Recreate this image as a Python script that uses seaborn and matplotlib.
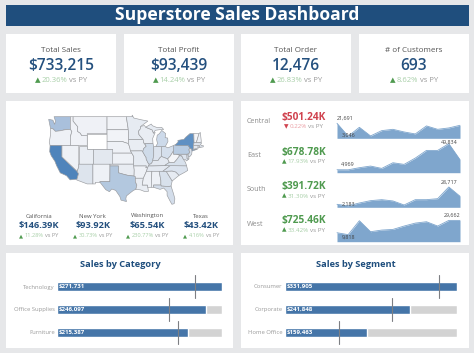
import math
import numpy as np
import pandas as pd
import seaborn as sns
import matplotlib
matplotlib.use("Agg")
import matplotlib.pyplot as plt
from matplotlib.patches import Rectangle

# ------------------ data ------------------
kpi_titles = ["Total Sales", "Total Profit", "Total Order", "# of Customers"]
kpi_values = ["$733,215", "$93,439", "12,476", "693"]
kpi_deltas = ["20.36%", "14.24%", "26.83%", "8.62%"]

top_states = ["California", "New York", "Washington", "Texas"]
top_sales = ["$146.39K", "$93.92K", "$65.54K", "$43.42K"]
top_deltas = ["11.28%", "30.73%", "230.77%", "4.16%"]

regions = ["Central", "East", "South", "West"]
region_sales = ["$501.24K", "$678.78K", "$391.72K", "$725.46K"]
region_deltas = ["0.22%", "17.93%", "31.30%", "33.42%"]
region_up = [False, True, True, True]
months = list(range(12))
central = [21691, 3046, 15900, 3400, 11100, 13000, 9200, 6300, 17900, 13000, 15000, 18800]
east = [5100, 4969, 8600, 11400, 7400, 17100, 14300, 25100, 38300, 38300, 49834, 22300]
south = [4200, 2183, 6100, 9400, 10800, 9000, 3300, 10800, 10800, 12200, 28717, 15600]
west = [12500, 9818, 29200, 13900, 16200, 17100, 21800, 25900, 27800, 21800, 29662, 29662]

categories = ["Technology", "Office Supplies", "Furniture"]
category_sales = [271731, 246097, 215387]
category_targets = [226700, 183900, 199300]
segments = ["Consumer", "Corporate", "Home Office"]
segment_sales = [331905, 241848, 159463]
segment_targets = [297200, 207100, 105500]

# state outlines, lon/lat
WA = [(-124.7,48.4),(-123.2,48.2),(-122.6,47.2),(-122.3,48.0),(-122.8,49),(-117.03,49),(-117.04,46.4),(-116.92,46.0),(-119,45.93),(-120.5,45.7),(-122.3,45.55),(-123.2,46.15),(-124.05,46.27)]
OR = [(-124.05,46.27),(-123.2,46.15),(-122.3,45.55),(-120.5,45.7),(-119,45.93),(-116.92,46.0),(-116.5,45.5),(-117.03,44.2),(-117.03,42),(-124.2,42),(-124.5,42.8),(-124.1,44.5)]
CA = [(-124.2,42),(-120,42),(-120,39),(-114.63,35),(-114.15,34.3),(-114.7,32.72),(-117.12,32.53),(-118.4,33.75),(-120.6,34.55),(-121.9,36.6),(-122.5,37.8),(-123.8,39.3),(-124.35,40.4)]
NV = [(-120,42),(-114.04,42),(-114.05,36.2),(-114.63,35),(-120,39)]
ID = [(-117.03,49),(-116.05,49),(-116.05,48),(-114.4,46.65),(-114.5,45.55),(-113.5,45.1),(-113,44.5),(-111.05,44.48),(-111.05,42),(-117.03,42),(-117.03,44.2),(-116.5,45.5),(-116.92,46.0),(-117.04,46.4)]
MT = [(-116.05,49),(-104.05,49),(-104.05,45),(-111.05,45),(-111.05,44.48),(-113,44.5),(-113.5,45.1),(-114.5,45.55),(-114.4,46.65),(-116.05,48)]
WY = [(-111.05,45),(-104.05,45),(-104.05,41),(-111.05,41)]
UT = [(-114.04,42),(-111.05,42),(-111.05,41),(-109.05,41),(-109.05,37),(-114.05,37)]
AZ = [(-114.05,37),(-109.05,37),(-109.05,31.33),(-111.07,31.33),(-114.8,32.5),(-114.7,32.72),(-114.15,34.3),(-114.63,35),(-114.05,36.2)]
CO = [(-109.05,41),(-102.05,41),(-102.05,37),(-109.05,37)]
NM = [(-109.05,37),(-103,37),(-103.05,32),(-106.6,32),(-106.5,31.78),(-108.2,31.78),(-108.2,31.33),(-109.05,31.33)]
ND = [(-104.05,49),(-97.23,49),(-96.6,46.3),(-96.55,45.94),(-104.05,45.94)]
SD = [(-104.05,45.94),(-96.55,45.94),(-96.45,45.3),(-96.45,43.5),(-96.5,42.5),(-97.9,42.8),(-98.5,43),(-104.05,43)]
NE = [(-104.05,43),(-98.5,43),(-97.9,42.8),(-96.5,42.5),(-96.1,41.7),(-95.3,40),(-102.05,40),(-102.05,41),(-104.05,41)]
KS = [(-102.05,40),(-95.3,40),(-94.6,39.1),(-94.62,37),(-102.05,37)]
OK = [(-103,37),(-94.62,37),(-94.43,35.4),(-94.48,33.64),(-96.5,33.8),(-98,34.1),(-100,34.56),(-100,36.5),(-103,36.5)]
TX = [(-103,36.5),(-100,36.5),(-100,34.56),(-98,34.1),(-96.5,33.8),(-94.48,33.64),(-94.04,33.5),(-94.04,32),(-93.5,31),(-93.85,29.7),(-94.7,29.4),(-95.9,28.6),(-97.2,27.7),(-97.4,26.8),(-97.15,25.95),(-99.1,26.4),(-99.5,27.5),(-101,29.4),(-102.4,29.8),(-103.2,29),(-104.5,29.6),(-106.5,31.78),(-106.6,32),(-103.05,32)]
MN = [(-97.23,49),(-95.15,49),(-95.15,49.38),(-94.6,48.7),(-92,48.3),(-89.6,48),(-92.1,46.75),(-92.3,46.1),(-92.9,45.6),(-92.75,44.75),(-91.25,43.5),(-96.45,43.5),(-96.45,45.3),(-96.55,45.94),(-96.6,46.3)]
IA = [(-96.45,43.5),(-91.25,43.5),(-91.1,42.7),(-90.2,41.8),(-91.1,41.2),(-91.42,40.38),(-91.73,40.6),(-95.77,40.58),(-96.1,41.7),(-96.5,42.5)]
MO = [(-95.77,40.58),(-91.73,40.6),(-91.42,40.38),(-90.7,39.4),(-90.2,38.8),(-90.2,38.4),(-89.5,37.3),(-89.1,36.97),(-89.4,36.5),(-89.7,36),(-90.37,36),(-90.15,36.5),(-94.62,36.5),(-94.62,37),(-94.6,39.1),(-95.3,40)]
AR = [(-94.62,36.5),(-90.15,36.5),(-90.37,36),(-89.7,36),(-90.1,35),(-91.2,33),(-94.04,33),(-94.04,33.5),(-94.48,33.64),(-94.43,35.4)]
LA = [(-94.04,33),(-91.2,33),(-91.6,31),(-89.75,31),(-89.6,30.2),(-89.4,29.1),(-90.9,29.1),(-92.2,29.55),(-93.85,29.7),(-93.5,31),(-94.04,32)]
WI = [(-92.1,46.75),(-90.8,46.95),(-90.4,46.55),(-88.1,45.9),(-87.6,45.1),(-87,45.3),(-87.9,43.8),(-87.8,42.5),(-90.65,42.5),(-91.1,42.7),(-91.25,43.5),(-92.75,44.75),(-92.9,45.6),(-92.3,46.1)]
IL = [(-90.65,42.5),(-87.8,42.5),(-87.53,41.7),(-87.53,39.3),(-87.9,38),(-88.1,37.5),(-88.5,37.1),(-89.1,36.97),(-89.5,37.3),(-90.2,38.4),(-90.2,38.8),(-90.7,39.4),(-91.42,40.38),(-91.1,41.2),(-90.2,41.8)]
IN = [(-87.53,41.7),(-86.8,41.76),(-84.8,41.7),(-84.82,39.1),(-85.4,38.7),(-86,38),(-87.9,38),(-87.53,39.3)]
MI_L = [(-86.8,41.76),(-84.8,41.7),(-83.45,41.73),(-82.5,43),(-82.6,43.9),(-83.5,44),(-83.3,45),(-84.7,45.78),(-85.5,45),(-86.3,44.6),(-86.5,43.5),(-86.2,42.5)]
MI_U = [(-90.4,46.55),(-88.1,45.9),(-87.6,45.1),(-87,45.8),(-85,46),(-84,46),(-84.7,46.5),(-86.5,46.5),(-88,46.9),(-88.4,47.3)]
OH = [(-84.8,41.7),(-83.45,41.73),(-82.5,41.4),(-80.52,42),(-80.52,40.6),(-81.7,39.2),(-82.6,38.45),(-84.82,39.1)]
KY = [(-89.4,36.5),(-88.1,36.5),(-83.7,36.6),(-82,37.5),(-82.6,38.45),(-84.82,39.1),(-85.4,38.7),(-86,38),(-87.9,38),(-88.1,37.5),(-88.5,37.1),(-89.1,36.97)]
TN = [(-90.1,35),(-89.7,36),(-89.4,36.5),(-88.1,36.5),(-83.7,36.6),(-81.7,36.6),(-84.3,35)]
MS = [(-91.2,33),(-90.1,35),(-88.2,35),(-88.4,30.3),(-89.6,30.2),(-89.75,31),(-91.6,31)]
AL = [(-88.2,35),(-85.6,35),(-85,32.3),(-85,31),(-87.6,31),(-87.5,30.3),(-88.4,30.3)]
GA = [(-85.6,35),(-83.1,35),(-81,32.2),(-81.4,30.7),(-82.2,30.55),(-84.9,30.7),(-85,31),(-85,32.3)]
FL = [(-87.6,31),(-85,31),(-84.9,30.7),(-82.2,30.55),(-81.4,30.7),(-80.5,28.3),(-80.05,26.8),(-80.3,25.3),(-81.1,25.1),(-81.8,26.2),(-82.8,27.9),(-82.8,29),(-84,30.1),(-85.3,29.7),(-87.5,30.3)]
SC = [(-83.1,35),(-81.05,35.1),(-79.7,34.8),(-78.55,33.85),(-81,32.2)]
NC = [(-84.3,35),(-81.7,36.6),(-75.9,36.55),(-75.5,35.25),(-76.6,34.7),(-78.55,33.85),(-79.7,34.8),(-81.05,35.1),(-83.1,35)]
VA = [(-83.7,36.6),(-75.9,36.55),(-76.3,37.5),(-77,38.3),(-77.5,39.1),(-78.35,39.4),(-79.3,38.4),(-80.3,37.5),(-82,37.5)]
WV = [(-82.6,38.45),(-82,37.5),(-80.3,37.5),(-79.3,38.4),(-78.35,39.4),(-77.7,39.3),(-79.48,39.72),(-80.52,39.72),(-80.52,40.6),(-81.7,39.2)]
MD = [(-79.48,39.72),(-75.79,39.72),(-75.7,38.45),(-75.05,38.45),(-75.9,37.9),(-76.4,38.3),(-77,38.3),(-77.5,39.1),(-77.7,39.3)]
DE = [(-75.79,39.72),(-75.4,39.8),(-75.05,38.45),(-75.7,38.45)]
PA = [(-80.52,42),(-79.76,42.27),(-79.76,42),(-75.35,42),(-74.7,41.35),(-75.1,40.9),(-74.75,40.2),(-75.4,39.8),(-75.79,39.72),(-80.52,39.72)]
NJ = [(-74.7,41.35),(-74,41),(-74,40.4),(-74.1,39.7),(-74.9,38.95),(-75.5,39.5),(-74.75,40.2),(-75.1,40.9)]
NY = [(-79.76,42.27),(-78.9,42.9),(-79,43.3),(-76.8,43.6),(-76.2,44.1),(-74.7,45),(-73.35,45),(-73.3,43.6),(-73.25,42.75),(-73.5,42.05),(-73.5,41.3),(-73.65,41),(-72,41.05),(-74,40.55),(-74,41),(-74.7,41.35),(-75.35,42),(-79.76,42)]
VT = [(-73.35,45),(-71.5,45),(-72.45,42.73),(-73.25,42.75),(-73.3,43.6)]
NH = [(-71.5,45),(-71.05,45.3),(-70.7,43.1),(-70.8,42.87),(-71.3,42.7),(-72.45,42.73)]
MA = [(-73.5,42.05),(-73.25,42.75),(-71.3,42.7),(-70.8,42.87),(-70.6,42.6),(-71,42.3),(-70.6,41.95),(-70,42),(-70,41.65),(-71.1,41.5),(-71.4,42),(-71.8,42)]
CT = [(-73.5,42.05),(-71.8,42),(-71.85,41.33),(-73.65,41),(-73.5,41.3)]
RI = [(-71.8,42),(-71.4,42),(-71.2,41.5),(-71.85,41.33)]

state_shapes = [(WA,"#a9c0dc"),(OR,"#eef1f6"),(CA,"#4f84bb"),(NV,"#eef1f6"),(ID,"#f0f2f7"),(MT,"#eff1f6"),
    (WY,"#ffffff"),(UT,"#e9edf3"),(AZ,"#dde4ed"),(CO,"#e3e8ef"),(NM,"#eef1f6"),(ND,"#f1f3f7"),(SD,"#f1f3f7"),
    (NE,"#eef1f6"),(KS,"#eef1f6"),(OK,"#e8ecf2"),(TX,"#b3c8df"),(MN,"#e6ebf2"),(IA,"#e9edf3"),(MO,"#e6ebf2"),
    (AR,"#eef1f6"),(LA,"#e9edf3"),(WI,"#e9edf3"),(IL,"#cfdbe9"),(IN,"#dde4ee"),(MI_L,"#cddaea"),(MI_U,"#e6ebf2"),
    (OH,"#d5dfec"),(KY,"#e3e8f0"),(TN,"#e3e8f0"),(MS,"#eef1f6"),(AL,"#eef1f6"),(GA,"#d8e1ec"),(FL,"#d3ddea"),
    (SC,"#e6ebf2"),(NC,"#dbe3ee"),(VA,"#d8e1ec"),(WV,"#f4f5f8"),(MD,"#dde4ee"),(DE,"#e3e8f0"),(PA,"#b9cce2"),
    (NJ,"#d8e1ec"),(NY,"#5f90c3"),(VT,"#f4f5f8"),(NH,"#eef1f6"),(MA,"#dde4ee"),(CT,"#e3e8f0"),(RI,"#e9edf3")]

# ------------------ styling ------------------
W, H = 474, 353
sns.set_theme(style="white")
plt.rcParams["font.family"] = ["Open Sans", "DejaVu Sans"]
BG = "#e6e7e9"
NAVY = "#1f4e7d"
VALUE = "#24507e"
BLUE = "#4575a8"
GREEN = "#4f9a4f"
PALEGREEN = "#a8cfa8"
RED = "#d0434f"
PALERED = "#eba0a6"
GREY = "#9a9a9a"
AREA = "#7fa6cd"

fig = plt.figure(figsize=(W / 100, H / 100), dpi=100, facecolor=BG)


def fx(x):
    return x / W


def fy(y):
    return 1 - y / H


def axes_px(x0, y0, x1, y1):
    """Axes covering a rectangle given in image pixels (y downward)."""
    ax = fig.add_axes([fx(x0), fy(y1), (x1 - x0) / W, (y1 - y0) / H])
    ax.patch.set_alpha(0)
    return ax


def panel(x0, y0, x1, y1, color="white"):
    fig.add_artist(Rectangle((fx(x0), fy(y1)), (x1 - x0) / W, (y1 - y0) / H,
                             transform=fig.transFigure, fc=color, ec="none", zorder=0))


def txt(x, y, s, size, color, weight="normal", ha="center"):
    return fig.text(fx(x), fy(y), s, fontsize=size, color=color, fontweight=weight,
                    ha=ha, va="center", zorder=5)


def delta(cx, y, pct, up=True, size=5.5):
    """Triangle + coloured percent + grey 'vs PY', centred on cx."""
    rend = fig.canvas.get_renderer()
    main, pale = (GREEN, PALEGREEN) if up else (RED, PALERED)
    t1 = txt(0, y, "▲" if up else "▼", size - 0.3, main, ha="left")
    t2 = txt(0, y, pct, size, pale, ha="left")
    t3 = txt(0, y, "vs PY", size, GREY, ha="left")
    ws = [t.get_window_extent(rend).width for t in (t1, t2, t3)]
    gap = 1.3
    x = cx - (sum(ws) + 2 * gap) / 2
    for t, w in zip((t1, t2, t3), ws):
        t.set_x(fx(x))
        x += w + gap


# ------------------ panels ------------------
panel(6, 5, 469, 26, NAVY)
txt(237.5, 15.5, "Superstore Sales Dashboard", 12.6, "white", "bold")

kpi_boxes = [(6, 116), (124, 234), (241, 351), (359, 469)]
for (x0, x1), title, value, d in zip(kpi_boxes, kpi_titles, kpi_values, kpi_deltas):
    panel(x0, 34, x1, 93)
    cx = (x0 + x1) / 2
    txt(cx, 51, title, 5.8, "#555555")
    txt(cx, 66, value, 11.2, VALUE, 600)
    delta(cx, 80.5, d)

panel(6, 101, 233, 245)
panel(241, 101, 469, 245)
panel(6, 253, 233, 348)
panel(241, 253, 469, 348)


# ------------------ map ------------------
def merc(lat):
    return math.degrees(math.log(math.tan(math.radians(45 + lat / 2))))


ax_map = axes_px(33.7, 116.7, 217.4, 204.3)
for shape, color in state_shapes:
    lon = [p[0] for p in shape]
    lat = [merc(p[1]) for p in shape]
    ax_map.fill(lon, lat, facecolor=color, edgecolor="#9a9ca0", linewidth=0.45, clip_on=False)
ax_map.set_xlim(-130, -65)
ax_map.set_ylim(merc(25.1), merc(49))
ax_map.axis("off")

for cx, name, sale, d in zip([38.7, 92.7, 147, 201], top_states, top_sales, top_deltas):
    txt(cx, 216, name, 4.3, "#555555")
    txt(cx, 226, sale, 6.7, VALUE, "bold")
    delta(cx, 235.5, d, size=4.1)

# ------------------ region sparklines ------------------
spark_rows = [
    (central, 138.3, 15.0, [(0, 8, 5.3), (1, 0, 1)]),
    (east, 172.7, 29.0, [(1, 0, 5.7), (10, 0, 1)]),
    (south, 207.3, 20.3, [(1, 0, 2), (10, 0, 5)]),
    (west, 241.7, 21.3, [(1, 0, -3), (10, 3, 5)]),
]
row_label_y = [121.7, 155.7, 190, 224.7]
row_value_y = [117.3, 152, 186, 220.7]
row_delta_y = [127, 161.7, 196, 230]

for i, (vals, bottom, height, labels) in enumerate(spark_rows):
    txt(247, row_label_y[i], regions[i], 5.1, "#8a8a8a", ha="left")
    txt(303.7, row_value_y[i], region_sales[i], 7.3, GREEN if region_up[i] else RED, "bold")
    delta(303.7, row_delta_y[i], region_deltas[i], region_up[i], size=4.5)

    ax = axes_px(337, bottom - height, 460, bottom)
    frame = pd.DataFrame({"month": months, "sales": vals})
    ax.fill_between(frame["month"], frame["sales"], color=AREA, lw=0, clip_on=False)
    sns.lineplot(data=frame, x="month", y="sales", ax=ax, color=AREA, lw=0.6, clip_on=False)
    ax.set_xlim(0, 11)
    ax.set_ylim(0, max(vals))
    ax.axis("off")
    for idx, dx, dy in labels:
        ax.annotate(f"{vals[idx]:,}", (idx, vals[idx]), xytext=(dx * 0.72, dy * 0.72),
                    textcoords="offset points", fontsize=3.9, color="#444444",
                    ha="center", va="center", annotation_clip=False, zorder=6)


# ------------------ bullet bars ------------------
def bullet(x0, x1, names, sales, targets, title, title_x):
    ax = axes_px(x0, 275, x1, 344)
    frame = pd.DataFrame({"name": names, "sales": sales, "top": [max(sales)] * len(sales)})
    sns.barplot(data=frame, y="name", x="top", color="#d3d3d3", width=0.39, saturation=1,
                ax=ax, orient="h")
    sns.barplot(data=frame, y="name", x="sales", color=BLUE, width=0.39, saturation=1,
                ax=ax, orient="h")
    for i, (s, t) in enumerate(zip(sales, targets)):
        ax.plot([t, t], [i - 0.5, i + 0.5], color="#7d7f83", lw=0.8, zorder=5, clip_on=False)
        ax.annotate(f"${s:,}", (0, i), xytext=(1.5, 0), textcoords="offset points",
                    fontsize=4.4, color="white", fontweight="bold", va="center", ha="left", zorder=6)
    ax.set_xlim(0, max(sales))
    ax.set_ylim(2.5, -0.5)
    ax.set_xlabel("")
    ax.set_ylabel("")
    ax.set_xticks([])
    ax.tick_params(axis="y", length=0, pad=1.5, labelsize=4.2, labelcolor="#9a9a9a")
    sns.despine(ax=ax, left=True, bottom=True)
    txt(title_x, 264.5, title, 6.7, NAVY, "bold")


bullet(57, 222, categories, category_sales, category_targets, "Sales by Category", 120)
bullet(284.7, 456.7, segments, segment_sales, segment_targets, "Sales by Segment", 356)

fig.savefig("out.png", dpi=100, facecolor=BG)
